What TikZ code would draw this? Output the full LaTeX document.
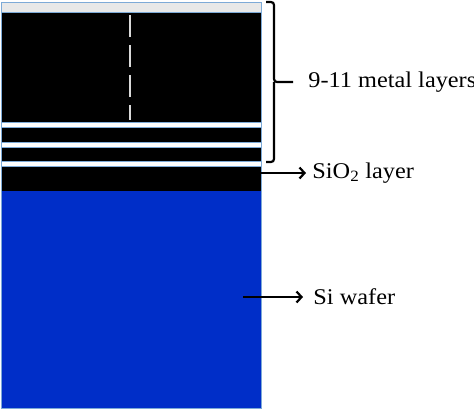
\documentclass[tikz,border=0pt]{standalone}
\usepackage{fontspec}
\setmainfont{Liberation Serif}
\usepackage{tikz}
\usetikzlibrary{arrows.meta}
\usepackage{xcolor}

\definecolor{azulsi}{RGB}{0,46,200}
\definecolor{bordacamada}{RGB}{125,170,215}
\definecolor{cinzatopo}{RGB}{232,232,232}

\begin{document}
\begin{tikzpicture}[x=1pt, y=-1pt,
    faixa/.style={fill=white, draw=bordacamada, line width=0.8pt},
    rotulo/.style={anchor=west, inner sep=0pt, outer sep=6pt, xscale=1.08,
      font=\fontsize{22.5}{26}\selectfont},
    seta/.style={-{Straight Barb[length=5pt,width=11pt]}, line width=2.2pt}]
        \useasboundingbox (0,0) rectangle (474,408);

        % Pastilha de silicio
        \fill[azulsi] (1,191) rectangle (261,408);

        % Camadas metalicas e oxido
        \fill[black] (1,12) rectangle (261,191);
        \draw[faixa, fill=cinzatopo] (1,2) rectangle (261,12);
        \draw[faixa] (1,122) rectangle (261,127);
        \draw[faixa] (1,142) rectangle (261,147);
        \draw[faixa] (1,161) rectangle (261,166);
        \draw[white!85!black, line width=2pt, dash pattern=on 22pt off 8pt]
          (130,15) -- (130,120);
        \draw[bordacamada, line width=0.8pt] (1,2) rectangle (261,408);

        % Chave
        \coordinate (chavetopo) at (266,2);
        \coordinate (chave) at (274,82);
        \coordinate (chavebase) at (266,162);
        \coordinate (chaveponta) at (293,82);
        \draw[line width=2.2pt, rounded corners=3pt]
          (chavetopo) -| (chave) -- (chaveponta) (chave) |- (chavebase);

        % Rotulos
        \node[rotulo] (metal) at (302,82) {9-11 metal layers};
        \node[rotulo] (oxido) at (306,173) {SiO\textsubscript{2} layer};
        \node[rotulo] (wafer) at (307,297) {Si wafer};

        \coordinate (oxidoini) at (261,173);
        \coordinate (waferini) at (243,297);

        \draw[seta] (oxidoini) -- (oxido);
        \draw[seta, shorten >=4pt] (waferini) -- (wafer);
    \end{tikzpicture}
\end{document}
